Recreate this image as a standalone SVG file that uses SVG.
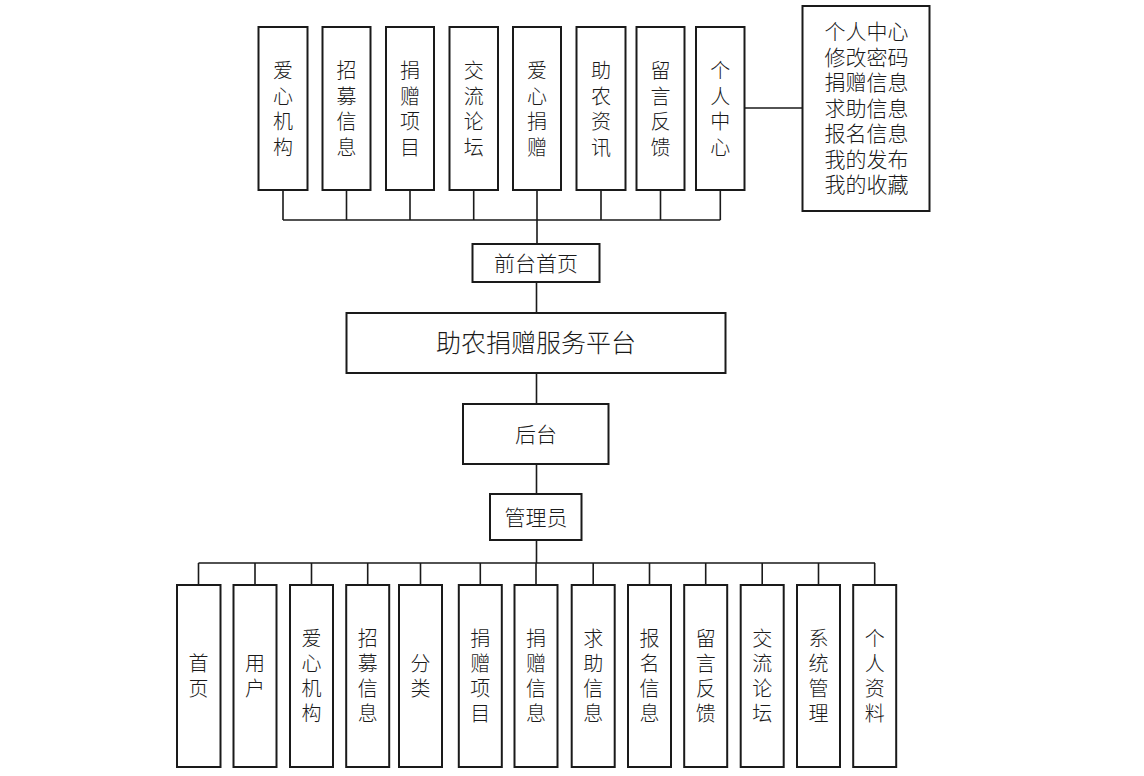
<svg xmlns="http://www.w3.org/2000/svg" width="1144" height="776" viewBox="0 0 1144 776">
<style>
.box{fill:#fff;stroke:#1a1a1a;stroke-width:2}
.ln{fill:none;stroke:#1a1a1a;stroke-width:1.6}
text{font-family:"Noto Sans CJK SC","Noto Sans",sans-serif;fill:#1a1a1a;text-anchor:middle;dominant-baseline:central;font-weight:300}
.t{font-size:20px}
.m{font-size:21px}
.big{font-size:25px}
</style>
<rect width="1144" height="776" fill="#fff"/>
<g id="connectors">
<path class="ln" d="M283 190V220M346.5 190V220M410 190V220M473.7 190V220M537 190V220M601 190V220M660.5 190V220M720.3 190V220M283 220H720.3"/>
<path class="ln" d="M537 220V244M536.5 282V313M536.5 373V404M536.5 464V494M536.5 540V563"/>
<path class="ln" d="M744.5 108H802.5"/>
<path class="ln" d="M198.5 563H875M198.5 563V585M255 563V585M311.5 563V585M367.7 563V585M420.5 563V585M480.3 563V585M536 563V585M593.2 563V585M649.5 563V585M705.7 563V585M762.2 563V585M818.5 563V585M874.7 563V585"/>
</g>
<g id="top1"><rect class="box" x="258.5" y="27" width="49" height="163"/><text class="t"><tspan x="283" y="69">爱</tspan><tspan x="283" y="94.5">心</tspan><tspan x="283" y="120">机</tspan><tspan x="283" y="145.5">构</tspan></text></g>
<g id="top2"><rect class="box" x="322.5" y="27" width="48" height="163"/><text class="t"><tspan x="346.5" y="69">招</tspan><tspan x="346.5" y="94.5">募</tspan><tspan x="346.5" y="120">信</tspan><tspan x="346.5" y="145.5">息</tspan></text></g>
<g id="top3"><rect class="box" x="386" y="27" width="48" height="163"/><text class="t"><tspan x="410" y="69">捐</tspan><tspan x="410" y="94.5">赠</tspan><tspan x="410" y="120">项</tspan><tspan x="410" y="145.5">目</tspan></text></g>
<g id="top4"><rect class="box" x="449.5" y="27" width="48.5" height="163"/><text class="t"><tspan x="473.7" y="69">交</tspan><tspan x="473.7" y="94.5">流</tspan><tspan x="473.7" y="120">论</tspan><tspan x="473.7" y="145.5">坛</tspan></text></g>
<g id="top5"><rect class="box" x="513" y="27" width="48" height="163"/><text class="t"><tspan x="537" y="69">爱</tspan><tspan x="537" y="94.5">心</tspan><tspan x="537" y="120">捐</tspan><tspan x="537" y="145.5">赠</tspan></text></g>
<g id="top6"><rect class="box" x="576.5" y="27" width="49" height="163"/><text class="t"><tspan x="601" y="69">助</tspan><tspan x="601" y="94.5">农</tspan><tspan x="601" y="120">资</tspan><tspan x="601" y="145.5">讯</tspan></text></g>
<g id="top7"><rect class="box" x="636.5" y="27" width="48" height="163"/><text class="t"><tspan x="660.5" y="69">留</tspan><tspan x="660.5" y="94.5">言</tspan><tspan x="660.5" y="120">反</tspan><tspan x="660.5" y="145.5">馈</tspan></text></g>
<g id="top8"><rect class="box" x="696" y="27" width="48.5" height="163"/><text class="t"><tspan x="720.3" y="69">个</tspan><tspan x="720.3" y="94.5">人</tspan><tspan x="720.3" y="120">中</tspan><tspan x="720.3" y="145.5">心</tspan></text></g>
<g id="personal"><rect class="box" x="802.5" y="6" width="127" height="205"/><text class="m"><tspan x="866.5" y="30">个人中心</tspan><tspan x="866.5" y="55.5">修改密码</tspan><tspan x="866.5" y="81">捐赠信息</tspan><tspan x="866.5" y="106.5">求助信息</tspan><tspan x="866.5" y="132">报名信息</tspan><tspan x="866.5" y="157.5">我的发布</tspan><tspan x="866.5" y="183">我的收藏</tspan></text></g>
<g id="front"><rect class="box" x="472.5" y="244" width="127" height="38"/><text class="m" x="536" y="262">前台首页</text></g>
<g id="platform"><rect class="box" x="346.5" y="313" width="379" height="60"/><text class="big" x="536" y="340.5">助农捐赠服务平台</text></g>
<g id="backend"><rect class="box" x="463" y="404" width="145.5" height="60"/><text class="m" x="536" y="432.5">后台</text></g>
<g id="admin"><rect class="box" x="490" y="494" width="91.5" height="46"/><text class="m" x="536" y="515.5">管理员</text></g>
<g id="b1"><rect class="box" x="177" y="585" width="43.5" height="182"/><text class="t"><tspan x="198.5" y="661.5">首</tspan><tspan x="198.5" y="686.5">页</tspan></text></g>
<g id="b2"><rect class="box" x="233.5" y="585" width="43" height="182"/><text class="t"><tspan x="255" y="661.5">用</tspan><tspan x="255" y="686.5">户</tspan></text></g>
<g id="b3"><rect class="box" x="290" y="585" width="43" height="182"/><text class="t"><tspan x="311.5" y="636.5">爱</tspan><tspan x="311.5" y="661.5">心</tspan><tspan x="311.5" y="686.5">机</tspan><tspan x="311.5" y="711.5">构</tspan></text></g>
<g id="b4"><rect class="box" x="346.2" y="585" width="43" height="182"/><text class="t"><tspan x="367.7" y="636.5">招</tspan><tspan x="367.7" y="661.5">募</tspan><tspan x="367.7" y="686.5">信</tspan><tspan x="367.7" y="711.5">息</tspan></text></g>
<g id="b5"><rect class="box" x="399" y="585" width="43" height="182"/><text class="t"><tspan x="420.5" y="661.5">分</tspan><tspan x="420.5" y="686.5">类</tspan></text></g>
<g id="b6"><rect class="box" x="458.8" y="585" width="43" height="182"/><text class="t"><tspan x="480.3" y="636.5">捐</tspan><tspan x="480.3" y="661.5">赠</tspan><tspan x="480.3" y="686.5">项</tspan><tspan x="480.3" y="711.5">目</tspan></text></g>
<g id="b7"><rect class="box" x="514.5" y="585" width="43" height="182"/><text class="t"><tspan x="536" y="636.5">捐</tspan><tspan x="536" y="661.5">赠</tspan><tspan x="536" y="686.5">信</tspan><tspan x="536" y="711.5">息</tspan></text></g>
<g id="b8"><rect class="box" x="571.7" y="585" width="43" height="182"/><text class="t"><tspan x="593.2" y="636.5">求</tspan><tspan x="593.2" y="661.5">助</tspan><tspan x="593.2" y="686.5">信</tspan><tspan x="593.2" y="711.5">息</tspan></text></g>
<g id="b9"><rect class="box" x="628" y="585" width="43" height="182"/><text class="t"><tspan x="649.5" y="636.5">报</tspan><tspan x="649.5" y="661.5">名</tspan><tspan x="649.5" y="686.5">信</tspan><tspan x="649.5" y="711.5">息</tspan></text></g>
<g id="b10"><rect class="box" x="684.2" y="585" width="43" height="182"/><text class="t"><tspan x="705.7" y="636.5">留</tspan><tspan x="705.7" y="661.5">言</tspan><tspan x="705.7" y="686.5">反</tspan><tspan x="705.7" y="711.5">馈</tspan></text></g>
<g id="b11"><rect class="box" x="740.7" y="585" width="43" height="182"/><text class="t"><tspan x="762.2" y="636.5">交</tspan><tspan x="762.2" y="661.5">流</tspan><tspan x="762.2" y="686.5">论</tspan><tspan x="762.2" y="711.5">坛</tspan></text></g>
<g id="b12"><rect class="box" x="797" y="585" width="43" height="182"/><text class="t"><tspan x="818.5" y="636.5">系</tspan><tspan x="818.5" y="661.5">统</tspan><tspan x="818.5" y="686.5">管</tspan><tspan x="818.5" y="711.5">理</tspan></text></g>
<g id="b13"><rect class="box" x="853.2" y="585" width="43" height="182"/><text class="t"><tspan x="874.7" y="636.5">个</tspan><tspan x="874.7" y="661.5">人</tspan><tspan x="874.7" y="686.5">资</tspan><tspan x="874.7" y="711.5">料</tspan></text></g>
</svg>
